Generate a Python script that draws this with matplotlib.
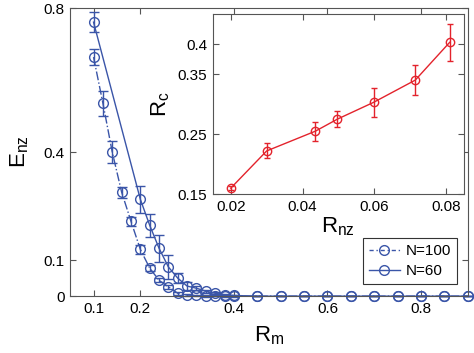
import numpy as np
import matplotlib
matplotlib.use("Agg")
import matplotlib.pyplot as plt
from matplotlib.lines import Line2D

plt.rcParams['font.family'] = ['Liberation Sans', 'DejaVu Sans']
plt.rcParams['mathtext.default'] = 'regular'

# main plot data
rm100 = [0.10, 0.12, 0.14, 0.16, 0.18, 0.20, 0.22, 0.24, 0.26, 0.28, 0.30,
         0.32, 0.34, 0.36, 0.38, 0.40, 0.45, 0.50, 0.55, 0.60, 0.65, 0.70,
         0.75, 0.80, 0.85, 0.90]
e100 = [0.664, 0.536, 0.400, 0.289, 0.208, 0.130, 0.078, 0.044, 0.026, 0.008, 0.003,
        0.002, 0.001, 0.001, 0.0, 0.0, 0.0, 0.0, 0.0, 0.0, 0.0, 0.0,
        0.0, 0.0, 0.0, 0.0]
err100 = [0.023, 0.035, 0.030, 0.015, 0.012, 0.012, 0.008, 0.006, 0.005, 0.004, 0.003,
          0.002, 0.002, 0.001, 0.001, 0.001, 0.0, 0.0, 0.0, 0.0, 0.0, 0.0,
          0.0, 0.0, 0.0, 0.0]

rm60 = [0.10, 0.20, 0.22, 0.24, 0.26, 0.28, 0.30, 0.32, 0.34, 0.36, 0.38, 0.40,
        0.45, 0.50, 0.55, 0.60, 0.65, 0.70, 0.75, 0.80, 0.85, 0.90]
e60 = [0.761, 0.269, 0.197, 0.133, 0.081, 0.050, 0.028, 0.022, 0.014, 0.008, 0.004, 0.002,
       0.0, 0.0, 0.0, 0.0, 0.0, 0.0, 0.0, 0.0, 0.0, 0.0]
err60 = [0.028, 0.037, 0.032, 0.037, 0.033, 0.014, 0.010, 0.006, 0.004, 0.003, 0.002, 0.001,
         0.0, 0.0, 0.0, 0.0, 0.0, 0.0, 0.0, 0.0, 0.0, 0.0]

# inset data
rnz = [0.020, 0.030, 0.0436, 0.0497, 0.0598, 0.0714, 0.081]
rc = [0.160, 0.222, 0.255, 0.275, 0.303, 0.340, 0.403]
rc_err = [0.003, 0.0125, 0.016, 0.013, 0.024, 0.025, 0.031]

blue = '#3a55a8'
red = '#e3232c'
gray = '#555555'

fig = plt.figure(figsize=(4.74, 3.53), dpi=100)
ax = fig.add_axes([0.148, 0.161, 0.839, 0.816])

for x, y, e, ls in [(rm100, e100, err100, '-.'), (rm60, e60, err60, '-')]:
    cont = ax.errorbar(x, y, yerr=e, color=blue, ls=ls, lw=1.0, marker='o',
                       ms=7, mfc='none', mec=blue, mew=1.0, capsize=3.5,
                       elinewidth=1.0)
    for art in cont.get_children():
        art.set_clip_on(False)

ax.set_xlim(0.05, 0.9)
ax.set_ylim(0, 0.8)
ax.set_xticks([0.1, 0.2, 0.4, 0.6, 0.8])
ax.set_xticklabels(['0.1', '0.2', '0.4', '0.6', '0.8'])
ax.set_yticks([0, 0.1, 0.4, 0.8])
ax.set_yticklabels(['0', '0.1', '0.4', '0.8'])
ax.tick_params(direction='in', top=True, right=True, labelsize=11, length=4,
               color=gray, pad=4)
for s in ax.spines.values():
    s.set_color(gray)
ax.set_xlabel('$R_m$', fontsize=16, labelpad=6)
ax.set_ylabel('$E_{nz}$', fontsize=16, labelpad=9)

handles = [Line2D([], [], color=blue, ls=(0, (3, 2, 1, 2)), lw=1.0, marker='o', ms=7,
                  mfc='none', mec=blue),
           Line2D([], [], color=blue, ls='-', lw=1.0, marker='o', ms=7,
                  mfc='none', mec=blue)]
leg = ax.legend(handles, ['N=100', 'N=60'], loc='lower right',
                bbox_to_anchor=(0.985, 0.025), fontsize=11,
                fancybox=False, edgecolor='#333333', framealpha=1,
                handlelength=2.0, borderpad=0.4, labelspacing=0.4,
                handletextpad=0.4, borderaxespad=0.3)
leg.get_frame().set_linewidth(0.8)

# inset
ins = fig.add_axes([0.449, 0.450, 0.530, 0.510])
ins.errorbar(rnz, rc, yerr=rc_err, color=red, ls='-', lw=1.0, marker='o',
             ms=6, mfc='none', mec=red, mew=1.0, capsize=2.5, elinewidth=1.0)
ins.set_xlim(0.015, 0.085)
ins.set_ylim(0.15, 0.45)
ins.set_xticks([0.02, 0.04, 0.06, 0.08])
ins.set_xticklabels(['0.02', '0.04', '0.06', '0.08'])
ins.set_yticks([0.15, 0.25, 0.35, 0.4])
ins.set_yticklabels(['0.15', '0.25', '0.35', '0.4'])
ins.tick_params(direction='in', top=True, right=True, labelsize=11, length=4,
                color=gray, pad=4)
for s in ins.spines.values():
    s.set_color(gray)
ins.set_xlabel('$R_{nz}$', fontsize=16, labelpad=1)
ins.set_ylabel('$R_c$', fontsize=16, labelpad=4)

fig.savefig('out.png', dpi=100)
